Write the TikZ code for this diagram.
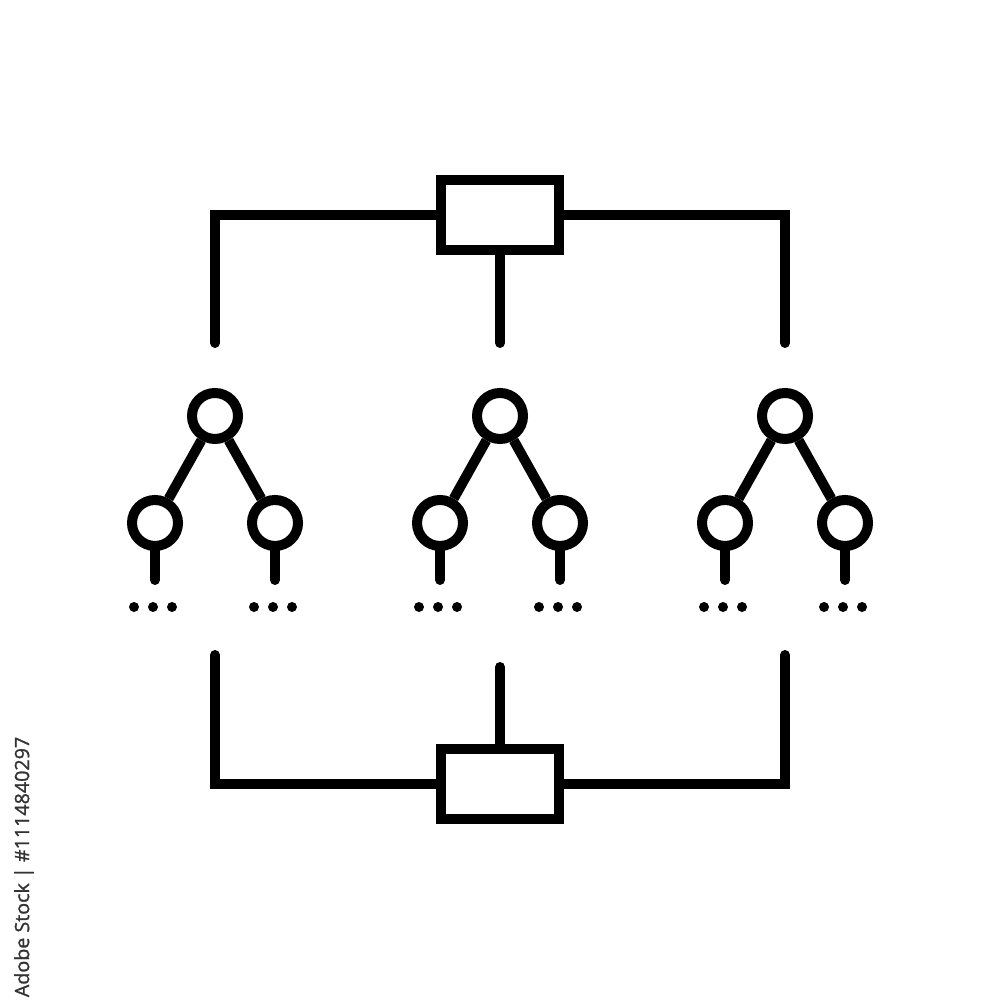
\documentclass[tikz,border=0pt]{standalone}
\usepackage{fontspec}
\newfontfamily\markfont[FakeBold=1.2]{Open Sans}
\usetikzlibrary{calc,positioning}

\begin{document}
\begin{tikzpicture}[
    line width=1mm,
    knot/.style={
      draw,circle,inner sep=0pt,minimum size=4.6mm
    },
    hub/.style={
      draw,rectangle,inner sep=0pt,minimum width=11.8mm,minimum height=7mm
    },
    wire/.style={line cap=round},
    dot/.style={fill,circle,inner sep=0pt,minimum size=1mm}
  ]
  \useasboundingbox (0,0) rectangle (10,10);

  \node (top) [hub] at (5,7.85) {};
  \node (bot) [hub] at (5,2.16) {};

  % three small trees
  \foreach \t/\x in {a/2.15,b/5,c/7.85} {
    \node (\t0) [knot] at (\x,5.84)      {};
    \node (\t1) [knot] at (\x-0.6,4.77) {};
    \node (\t2) [knot] at (\x+0.6,4.77) {};
    \draw (\t0) -- (\t1);
    \draw (\t0) -- (\t2);
    \foreach \k in {1,2} {
      \coordinate (\t\k e) at ($(\t\k)+(0,-0.57)$);
      \draw [wire] (\t\k) -- (\t\k e);
      \foreach \d in {1,2,3}
        \node (\t\k d\d) [dot] at ($(\t\k)+(0.19*\d-0.4,-0.84)$) {};
    }
  }

  % free ends of the connectors
  \coordinate (tl) at (2.15,6.57);
  \coordinate (tm) at (5,6.57);
  \coordinate (tr) at (7.85,6.57);
  \coordinate (bl) at (2.15,3.45);
  \coordinate (bm) at (5,3.33);
  \coordinate (br) at (7.85,3.45);

  \draw [wire] (top.west)  -| (tl);
  \draw [wire] (top.east)  -| (tr);
  \draw [wire] (top.south) -- (tm);
  \draw [wire] (bot.west)  -| (bl);
  \draw [wire] (bot.east)  -| (br);
  \draw [wire] (bot.north) -- (bm);

  \node (stamp) [rotate=90,anchor=center,text=black!80,inner sep=0pt,
    font=\markfont\fontsize{5.6}{6}\selectfont] at (0.24,1.33)
    {Adobe Stock | \#1114840297};
\end{tikzpicture}
\end{document}
